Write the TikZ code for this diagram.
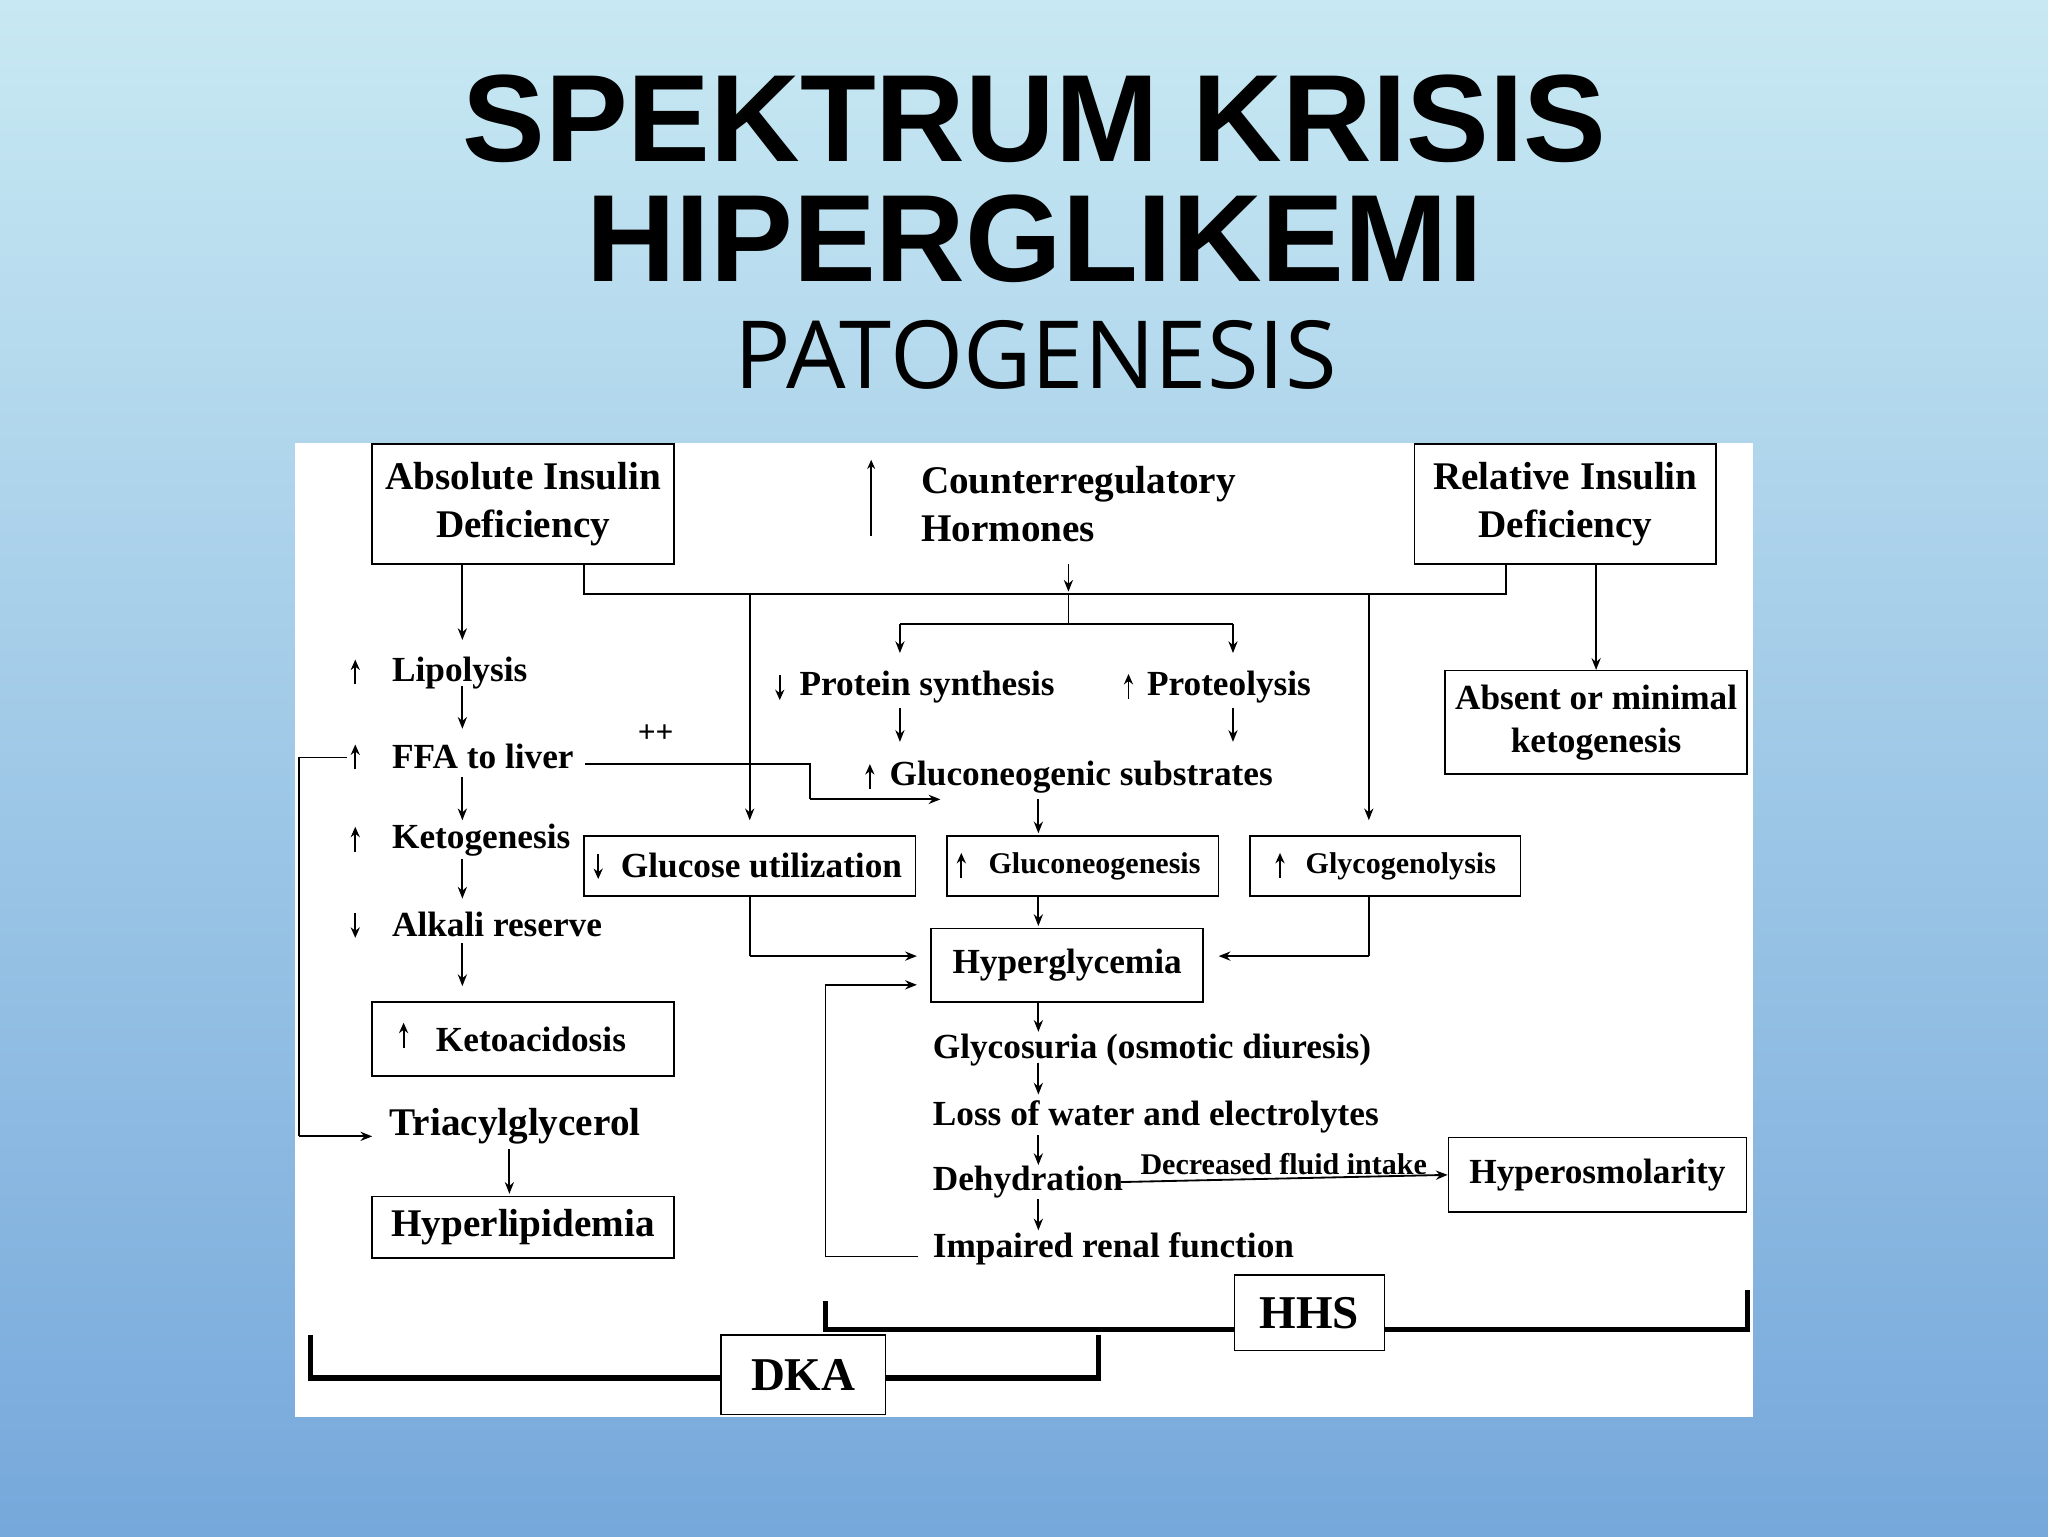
\documentclass[tikz,border=0pt]{standalone}
\usepackage{fontspec}
\setmainfont{Liberation Serif}
\newfontfamily\titlefont{Liberation Sans}
\newfontfamily\subfont{Open Sans}
\usetikzlibrary{arrows.meta}
\tikzset{
 ln/.style={line width=1.4pt},
 ar/.style={line width=1.4pt,-{Stealth[length=9pt,width=7pt]}},
 bx/.style={draw,line width=1.2pt,font=\bfseries\fontsize{27}{33}\selectfont,align=center,inner sep=0pt},
 big/.style={font=\bfseries\fontsize{30}{37}\selectfont},
 tx/.style={font=\bfseries\fontsize{27}{33}\selectfont,anchor=west,inner sep=0pt},
 sm/.style={font=\bfseries\fontsize{23}{27}\selectfont},
 brk/.style={line width=4pt},
}
\newcommand{\upa}[2]{\draw[line width=1.5pt,-{Stealth[length=8pt,width=7pt]}] (#1,#2+9) -- (#1,#2-10);}
\newcommand{\dna}[2]{\draw[line width=1.5pt,-{Stealth[length=8pt,width=7pt]}] (#1,#2-9) -- (#1,#2+10);}
\begin{document}
\begin{tikzpicture}[x=1pt,y=-1pt]
\shade[top color={rgb,255:red,200;green,233;blue,243},bottom color={rgb,255:red,118;green,168;blue,219}] (0,0) rectangle (1568,1176);
\useasboundingbox (0,0) rectangle (1568,1176);
\node[font=\titlefont\bfseries\fontsize{95}{100}\selectfont,align=center] (t1) at (792,137) {SPEKTRUM KRISIS\\[-8pt]HIPERGLIKEMI};
\node[font=\subfont\fontsize{72}{78}\selectfont] (t2) at (793,272) {PATOGENESIS};
\fill[white] (226,339) rectangle (1342,1085);
% boxes
\node[bx,big,minimum width=231pt,minimum height=92pt] (abs) at (400.5,386) {Absolute Insulin\\Deficiency};
\node[bx,big,minimum width=231pt,minimum height=92pt] (rel) at (1198.5,386) {Relative Insulin\\Deficiency};
\node[tx,big,align=left] (cr) at (705,386) {Counterregulatory\\Hormones};
\draw[line width=1.3pt,-{Stealth[length=7pt,width=6pt]}] (667,410) -- (667,352);
\node[bx,minimum width=231pt,minimum height=79pt] (abm) at (1222,553) {Absent or minimal\\ketogenesis};
\draw[ln] (447,432) -- (447,455) coordinate (L) -- (1153,455) coordinate (R) -- (1153,432);
\draw[ar] (818,432) -- (818,453);
\draw[ln] (818,455) -- (818,478) -- (689,478);
\draw[ln] (818,478) -- (944,478);
\coordinate (pa) at (689,478); \coordinate (pb) at (944,478);
\draw[ar] (pa) -- (689,500); \draw[ar] (pb) -- (944,500);
\draw[ar] (1222,432) -- (abm.north);
% left column
\draw[ar] (354,432) -- (354,490);
\upa{272}{515}\node[tx] (lip) at (300,515) {Lipolysis};
\draw[ar] (354,525) -- (354,558);
\upa{272}{580}\node[tx] (ffa) at (300,579) {FFA to liver};
\draw[ar] (354,595) -- (354,628);
\upa{272}{643}\node[tx] (ket) at (300,643) {Ketogenesis};
\draw[ar] (354,658) -- (354,688);
\dna{272}{708}\node[tx] (alk) at (300,708) {Alkali reserve};
\draw[ar] (354,722) -- (354,755);
\node[bx,minimum width=231pt,minimum height=57pt] (kac) at (400.5,795.5) {\hspace{12pt}Ketoacidosis};
\upa{309}{793}
\node[tx,big] (tri) at (298,862) {Triacylglycerol};
\draw[ar] (390,880) -- (390,914);
\node[bx,big,minimum width=231pt,minimum height=47pt] (hlp) at (400.5,939.5) {Hyperlipidemia};
\draw[ln] (266,580) -- (229,580) -- (229,870);
\draw[ar] (229,870) -- (285,870);
\node[font=\bfseries\fontsize{24}{26}\selectfont] (pp) at (502,562) {++};
\draw[ln] (448,585) -- (620,585) -- (620,612);
\draw[ar] (620,612) -- (720,612);
% middle
\dna{597}{526}\node[tx] (ps) at (612,526) {Protein synthesis};
\upa{864}{526}\node[tx] (pr) at (878,526) {Proteolysis};
\draw[ar] (689,542) -- (689,568);
\draw[ar] (944,542) -- (944,568);
\upa{666}{595}\node[tx] (gs) at (681,595) {Gluconeogenic substrates};
\draw[ar] (795,612) -- (795,638);
\node[bx,minimum width=254pt,minimum height=46pt] (gu) at (574,663) {\hspace{18pt}Glucose utilization};
\dna{458}{663}
\node[bx,sm,minimum width=208pt,minimum height=46pt] (gng) at (829,663) {\hspace{18pt}Gluconeogenesis};
\upa{736}{663}
\node[bx,sm,minimum width=207pt,minimum height=46pt] (gly) at (1060.5,663) {\hspace{24pt}Glycogenolysis};
\upa{980}{663}
\draw[ar] (574,455) -- (574,628);
\draw[ar] (1048,455) -- (1048,628);
\node[bx,minimum width=208pt,minimum height=56pt] (hg) at (817,739) {Hyperglycemia};
\draw[ar] (795,686) -- (795,709);
\draw[ln] (574,686) -- (574,732); \draw[ar] (574,732) -- (702,732);
\draw[ln] (1048,686) -- (1048,732); \draw[ar] (1048,732) -- (933,732);
\draw[ar] (795,767) -- (795,790);
\node[tx] (gc) at (714,804) {Glycosuria (osmotic diuresis)};
\draw[ar] (795,814) -- (795,838);
\node[tx] (lw) at (714,855) {Loss of water and electrolytes};
\draw[ar] (795,869) -- (795,892);
\node[tx] (dh) at (714,905) {Dehydration};
\draw[ar] (795,918) -- (795,942);
\node[tx] (irf) at (714,956) {Impaired renal function};
\node[sm,anchor=west,inner sep=0pt] (dfi) at (873,891) {Decreased fluid intake};
\node[bx,minimum width=228pt,minimum height=57pt] (hos) at (1223,899.5) {Hyperosmolarity};
\draw[ar] (858,905) -- (hos.west);
\draw[ln] (703,962) -- (632,962) -- (632,754);
\draw[ar] (632,754) -- (702,754);
% brackets
\draw[brk] (632,996) -- (632,1018) -- (1338,1018) -- (1338,988);
\node[bx,fill=white,font=\bfseries\fontsize{36}{40}\selectfont,minimum width=115pt,minimum height=58pt] (hhs) at (1002.5,1005) {HHS};
\draw[brk] (238,1022) -- (238,1055) -- (841,1055) -- (841,1022);
\node[bx,fill=white,font=\bfseries\fontsize{36}{40}\selectfont,minimum width=126pt,minimum height=61pt] (dka) at (615,1052.5) {DKA};
\end{tikzpicture}
\end{document}
